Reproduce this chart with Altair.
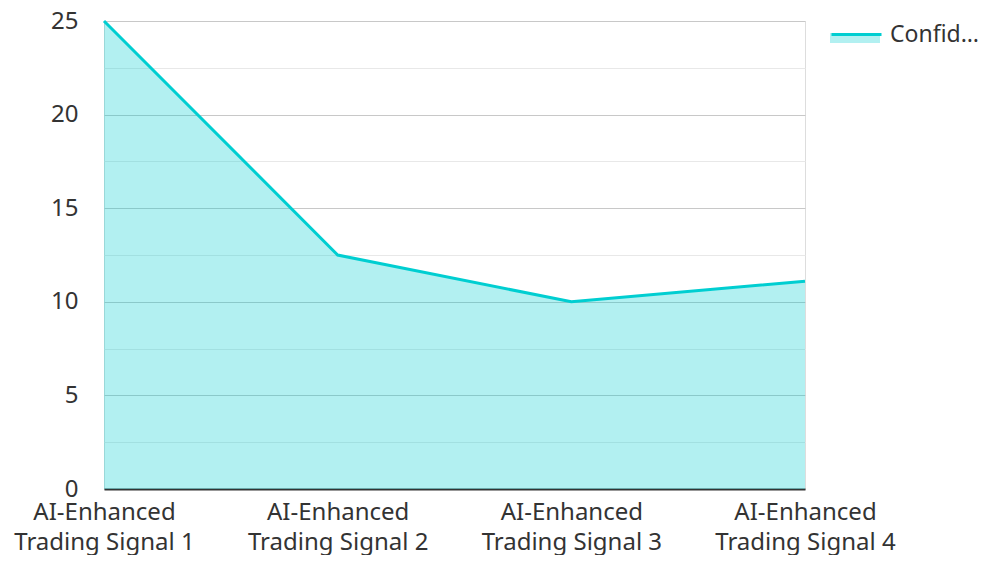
import altair as alt
import pandas as pd

signals = ["AI-Enhanced Trading Signal 1", "AI-Enhanced Trading Signal 2",
           "AI-Enhanced Trading Signal 3", "AI-Enhanced Trading Signal 4"]
confidence = [25, 12.5, 10, 11.1]
series_name = "Confidence Score"

df = pd.DataFrame({
    "signal": signals,
    "value": confidence,
    "series": [series_name] * len(signals),
    "series_fill": [series_name] * len(signals),
})

FONT = "Noto Sans"
TEAL = "#00CED1"
FS = 24
LFS = 23

x = alt.X("signal:N", sort=None, title=None,
          scale=alt.Scale(type="point", padding=0),
          axis=alt.Axis(labelAngle=0, ticks=False, grid=False, domain=True,
                        domainColor="#333333", domainWidth=2,
                        labelExpr="[substring(datum.label, 0, indexof(datum.label, ' ')), substring(datum.label, indexof(datum.label, ' ') + 1)]",
                        labelLineHeight=30, labelPadding=11, labelLimit=400,
                        labelFontSize=FS, labelColor="#333333", labelFont=FONT))

y = alt.Y("value:Q", title=None,
          scale=alt.Scale(domain=[0, 25], nice=False),
          axis=alt.Axis(values=[0, 2.5, 5, 7.5, 10, 12.5, 15, 17.5, 20, 22.5, 25],
                        labelExpr="datum.value % 5 === 0 ? datum.label : ''",
                        ticks=False, domain=False, labelPadding=26,
                        labelFontSize=FS, labelColor="#333333", labelFont=FONT,
                        gridColor=alt.ConditionalAxisColor(
                            condition={"test": "datum.value % 5 === 0", "value": "#c8c8c8"},
                            value="#e8e8e8"),
                        gridWidth=1))

area = alt.Chart(df).mark_area(opacity=0.3).encode(
    x=x, y=y,
    fill=alt.Fill("series_fill:N", scale=alt.Scale(range=[TEAL]),
                  legend=alt.Legend(title=None, orient="none", legendX=726, legendY=-13,
                                    symbolType="M-1,0L1,0L1,0.4L-1,0.4Z", symbolSize=2500,
                                    symbolOpacity=0.3, symbolStrokeWidth=0,
                                    labelOpacity=0, labelFontSize=LFS, labelFont=FONT,
                                    labelOffset=7, labelLimit=92, padding=0))
)

line = alt.Chart(df).mark_line(strokeWidth=3).encode(
    x=x, y=y,
    stroke=alt.Stroke("series:N", scale=alt.Scale(range=[TEAL]),
                      legend=alt.Legend(title=None, orient="none", legendX=726, legendY=-13,
                                        symbolType="stroke", symbolSize=2500,
                                        symbolStrokeWidth=3,
                                        labelFontSize=LFS, labelFont=FONT, labelColor="#333333",
                                        labelOffset=7, labelLimit=92, padding=0))
)

chart = alt.layer(area, line).properties(
    width=701, height=468,
    autosize=alt.AutoSizeParams(type="none"),
    padding={"left": 96, "top": 13, "right": 174, "bottom": 66},
).configure_view(stroke="transparent", strokeWidth=0).configure(font=FONT)

chart.save("out.html", embed_options={"renderer": "svg", "actions": False})
